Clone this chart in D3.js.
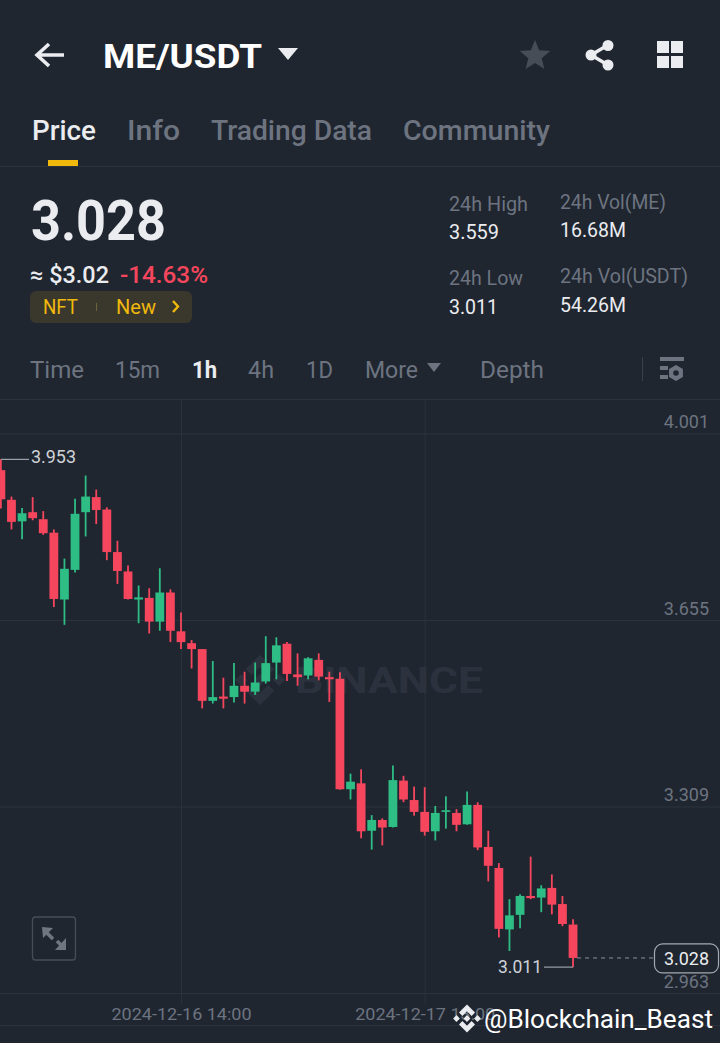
<!DOCTYPE html>
<html>
<head>
<meta charset="utf-8">
<title>ME/USDT</title>
<script src="https://cdn.jsdelivr.net/npm/d3@7/dist/d3.min.js"></script>
<style>
  html, body { margin: 0; padding: 0; background: #1f2630; }
  svg { display: block; }
  text { font-family: Roboto, "Noto Sans", sans-serif; }
</style>
</head>
<body>
<div id="chart"></div>
<script>
// one hourly candle per column, oldest first
var startTime = new Date(2024, 11, 15, 21);
var opens = [3.933, 3.878, 3.838, 3.855, 3.842, 3.817, 3.693, 3.748, 3.855, 3.883, 3.860, 3.781, 3.745, 3.693, 3.696, 3.652, 3.706, 3.634, 3.612,
  3.601, 3.505, 3.513, 3.512, 3.533, 3.522, 3.541, 3.576, 3.611, 3.554, 3.552, 3.581, 3.549, 3.546, 3.341, 3.352, 3.264, 3.284, 3.271,
  3.357, 3.321, 3.299, 3.263, 3.299, 3.297, 3.276, 3.312, 3.234, 3.195, 3.081, 3.108, 3.143, 3.140, 3.158, 3.128, 3.090];
var highs = [3.953, 3.884, 3.863, 3.883, 3.857, 3.823, 3.769, 3.880, 3.923, 3.897, 3.864, 3.802, 3.756, 3.719, 3.714, 3.751, 3.712, 3.669, 3.618,
  3.601, 3.579, 3.548, 3.575, 3.559, 3.576, 3.625, 3.623, 3.614, 3.593, 3.586, 3.593, 3.559, 3.558, 3.370, 3.378, 3.293, 3.287, 3.385,
  3.366, 3.346, 3.345, 3.310, 3.328, 3.304, 3.337, 3.317, 3.264, 3.204, 3.137, 3.146, 3.216, 3.163, 3.183, 3.143, 3.100];
var lows = [3.862, 3.823, 3.805, 3.840, 3.813, 3.679, 3.646, 3.743, 3.810, 3.833, 3.766, 3.722, 3.693, 3.649, 3.630, 3.635, 3.614, 3.601, 3.565,
  3.491, 3.500, 3.491, 3.502, 3.500, 3.516, 3.537, 3.545, 3.542, 3.533, 3.545, 3.543, 3.503, 3.340, 3.322, 3.250, 3.229, 3.237, 3.270,
  3.317, 3.292, 3.255, 3.246, 3.268, 3.263, 3.275, 3.228, 3.170, 3.066, 3.041, 3.083, 3.137, 3.113, 3.109, 3.087, 3.011];
var closes = [3.879, 3.837, 3.853, 3.844, 3.816, 3.694, 3.750, 3.852, 3.884, 3.859, 3.781, 3.746, 3.694, 3.697, 3.652, 3.706, 3.635, 3.614, 3.601,
  3.505, 3.512, 3.509, 3.533, 3.522, 3.539, 3.575, 3.608, 3.555, 3.549, 3.584, 3.550, 3.545, 3.341, 3.355, 3.263, 3.284, 3.270, 3.358,
  3.322, 3.299, 3.262, 3.297, 3.302, 3.275, 3.312, 3.233, 3.199, 3.082, 3.107, 3.143, 3.139, 3.157, 3.127, 3.091, 3.028];

var priceTicks = [4.001, 3.655, 3.309, 2.963];
var timeTicks = [new Date(2024, 11, 16, 14), new Date(2024, 11, 17, 13)];
var tabs = ['Price', 'Info', 'Trading Data', 'Community'];
var intervals = ['Time', '15m', '1h', '4h', '1D', 'More', 'Depth'];
var statLabels = ['24h High', '24h Vol(ME)', '24h Low', '24h Vol(USDT)'];
var statValues = ['3.559', '16.68M', '3.011', '54.26M'];

var width = 720, height = 1043;
var bg = '#1f2630', up = '#2ebd85', down = '#f6465d', gridColor = '#2b323d', axisText = '#6d7480';

var svg = d3.select('#chart').append('svg')
    .attr('width', width)
    .attr('height', height);

svg.append('rect')
    .attr('width', width)
    .attr('height', height)
    .attr('fill', bg);

function label(parent, str, x, y, size, fill, weight, anchor, fit) {
  var t = parent.append('text')
      .attr('x', x)
      .attr('y', y)
      .attr('font-size', size)
      .attr('fill', fill)
      .attr('font-weight', weight || 400)
      .attr('text-anchor', anchor || 'start')
      .text(str);
  // squeeze to the width measured in the reference
  if(fit) {
    t.attr('textLength', fit).attr('lengthAdjust', 'spacingAndGlyphs');
  }
  return t;
}

// exchange logo: two chevrons and three small diamonds
function logo(parent, cx, cy, k, fill) {
  var shapes = [
    'M0 -14L8 -6L4.6 -2.6L0 -7.2L-4.6 -2.6L-8 -6Z',
    'M0 14L8 6L4.6 2.6L0 7.2L-4.6 2.6L-8 6Z',
    'M0 -3.4L3.4 0L0 3.4L-3.4 0Z',
    'M-10.5 -3.4L-7.1 0L-10.5 3.4L-13.9 0Z',
    'M10.5 -3.4L13.9 0L10.5 3.4L7.1 0Z'
  ];
  parent.append('g')
      .attr('transform', 'translate(' + cx + ',' + cy + ') scale(' + k + ')')
      .selectAll('path')
      .data(shapes)
      .enter().append('path')
      .attr('d', function(d) { return d; })
      .attr('fill', fill);
}

// ---- header
var header = svg.append('g').attr('class', 'header');
header.append('path')
    .attr('d', 'M64 55H38M49 44L37 55L49 66')
    .attr('fill', 'none')
    .attr('stroke', '#eaecef')
    .attr('stroke-width', 3.6);
label(header, 'ME/USDT', 103, 68, 34, '#ffffff', 700, 'start', 159);
header.append('path').attr('d', 'M278 48H298L288 60Z').attr('fill', '#eaecef');
// star
header.append('path')
    .attr('d', d3.range(10).map(function(i) {
      var r = i % 2 ? 7 : 16, a = i * Math.PI / 5;
      return (i ? 'L' : 'M') + (535 + r * Math.sin(a)) + ' ' + (56 - r * Math.cos(a));
    }).join('') + 'Z')
    .attr('fill', '#474d57');
// share
header.append('path')
    .attr('d', 'M608 45L591 55L608 65')
    .attr('fill', 'none')
    .attr('stroke', '#eaecef')
    .attr('stroke-width', 3.5);
header.selectAll('circle.share')
    .data([[608, 45.5], [591, 55], [608, 65]])
    .enter().append('circle')
    .attr('cx', function(d) { return d[0]; })
    .attr('cy', function(d) { return d[1]; })
    .attr('r', 5.5)
    .attr('fill', '#eaecef');
// grid button
header.selectAll('rect.cell')
    .data([[657, 41], [671, 41], [657, 56], [671, 56]])
    .enter().append('rect')
    .attr('x', function(d) { return d[0]; })
    .attr('y', function(d) { return d[1]; })
    .attr('width', 12)
    .attr('height', 12)
    .attr('fill', '#eaecef');

// ---- tabs
var tabX = [32, 127, 211, 403], tabFit = [64, 53, 161, 147];
tabs.forEach(function(d, i) {
  label(svg, d, tabX[i], 140, 28, i ? '#6d7480' : '#eaecef', 500, 'start', tabFit[i]);
});
svg.append('rect').attr('x', 48).attr('y', 160).attr('width', 30).attr('height', 6).attr('fill', '#f0b90b');
svg.append('line').attr('x1', 0).attr('x2', width).attr('y1', 166.5).attr('y2', 166.5).attr('stroke', gridColor);

// ---- price block
label(svg, '3.028', 31, 240, 56, '#eaecef', 700, 'start', 135);
label(svg, '\u2248 $3.02', 30, 283, 23, '#eaecef', 500, 'start', 79);
label(svg, '-14.63%', 120, 283, 23, down, 500, 'start', 88);
svg.append('rect').attr('x', 30).attr('y', 291).attr('width', 162).attr('height', 32).attr('rx', 6).attr('fill', '#3a372d');
label(svg, 'NFT', 43, 314, 20, '#f0b90b', 400, 'start', 35);
svg.append('line').attr('x1', 96.5).attr('x2', 96.5).attr('y1', 303).attr('y2', 311).attr('stroke', '#6b6438');
label(svg, 'New', 116, 314, 20, '#f0b90b', 400, 'start', 40);
svg.append('path').attr('d', 'M173 301L178 306.5L173 312').attr('fill', 'none').attr('stroke', '#f0b90b').attr('stroke-width', 2.4);

var statX = [449, 560, 449, 560], statY = [211, 209, 285, 283], statFit = [79, 106, 74, 128], valueFit = [50, 66, 49, 66];
statLabels.forEach(function(d, i) {
  label(svg, d, statX[i], statY[i], 20, axisText, 400, 'start', statFit[i]);
  label(svg, statValues[i], statX[i], statY[i] + (i < 2 ? 28 : 29), 20, '#eaecef', 400, 'start', valueFit[i]);
});

// ---- interval row
var intervalX = [30, 115, 192, 248, 306, 365, 480], intervalFit = [54, 45, 25, 26, 27, 53, 64];
intervals.forEach(function(d, i) {
  label(svg, d, intervalX[i], 378, 24, i == 2 ? '#eaecef' : axisText, i == 2 ? 700 : 400, 'start', intervalFit[i]);
});
svg.append('path').attr('d', 'M427 363H441L434 372Z').attr('fill', axisText);
svg.append('line').attr('x1', 642.5).attr('x2', 642.5).attr('y1', 357).attr('y2', 381).attr('stroke', '#3a414c');
// chart settings icon
svg.append('path')
    .attr('d', 'M660 357H684V361H660ZM660 366H668V370H660ZM660 375H668V379H660Z')
    .attr('fill', axisText);
svg.append('path')
    .attr('d', d3.range(6).map(function(i) {
      var a = i * Math.PI / 3;
      return (i ? 'L' : 'M') + (676 + 8 * Math.sin(a)) + ' ' + (373 - 8 * Math.cos(a));
    }).join('') + 'Z')
    .attr('fill', axisText);
svg.append('circle').attr('cx', 676).attr('cy', 373).attr('r', 2.8).attr('fill', bg);
svg.append('line').attr('x1', 0).attr('x2', width).attr('y1', 399.5).attr('y2', 399.5).attr('stroke', gridColor);

// ---- chart
var y = d3.scaleLinear()
    .domain([priceTicks[0], priceTicks[3]])
    .range([433.5, 993]);
var x = d3.scaleTime()
    .domain(timeTicks)
    .range([181, 424.7]);
var hour = 3600000;
var candleWidth = 8.8;

function candleTime(i) {
  return new Date(+startTime + i * hour);
}

var yAxis = d3.axisRight(y)
    .tickValues(priceTicks)
    .tickSize(width)
    .tickFormat(d3.format('.3f'));
var gy = svg.append('g').attr('class', 'y-axis').call(yAxis);
gy.select('.domain').remove();
gy.selectAll('.tick line').attr('stroke', gridColor);
gy.selectAll('.tick text')
    .attr('x', 709)
    .attr('dy', -6)
    .attr('text-anchor', 'end')
    .attr('font-size', 18)
    .attr('font-family', 'Roboto')
    .attr('fill', axisText);

var xAxis = d3.axisBottom(x)
    .tickValues(timeTicks)
    .tickSize(604)
    .tickFormat(d3.timeFormat('%Y-%m-%d %H:%M'));
var gx = svg.append('g').attr('class', 'x-axis')
    .attr('transform', 'translate(0,400)')
    .call(xAxis);
gx.select('.domain').remove();
gx.selectAll('.tick line').attr('stroke', gridColor);
gx.selectAll('.tick text')
    .attr('y', 605)
    .attr('dy', 15)
    .attr('font-size', 17)
    .attr('font-family', 'Roboto')
    .attr('fill', axisText)
    .attr('textLength', 140)
    .attr('lengthAdjust', 'spacingAndGlyphs');
svg.append('line').attr('x1', 0).attr('x2', width).attr('y1', 1025.5).attr('y2', 1025.5).attr('stroke', gridColor);

// background watermark
var mark = svg.append('g').attr('class', 'watermark');
logo(mark, 260, 680, 1.8, '#2c323d');
label(mark, 'BINANCE', 295, 693, 37, '#2c323d', 700, 'start', 188);

// candles
var candles = svg.append('g').attr('class', 'candles')
    .selectAll('g')
    .data(d3.range(opens.length))
    .enter().append('g')
    .attr('fill', function(i) { return closes[i] >= opens[i] ? up : down; })
    .attr('stroke', function(i) { return closes[i] >= opens[i] ? up : down; });

candles.append('line')
    .attr('x1', function(i) { return x(candleTime(i)); })
    .attr('x2', function(i) { return x(candleTime(i)); })
    .attr('y1', function(i) { return y(highs[i]); })
    .attr('y2', function(i) { return y(lows[i]); })
    .attr('stroke-width', 1.8);

candles.append('rect')
    .attr('x', function(i) { return x(candleTime(i)) - candleWidth / 2; })
    .attr('y', function(i) { return y(Math.max(opens[i], closes[i])); })
    .attr('width', candleWidth)
    .attr('height', function(i) { return Math.max(1.5, Math.abs(y(opens[i]) - y(closes[i]))); })
    .attr('stroke', 'none');

// high / low / last callouts
var lastIndex = opens.length - 1;
var highX = x(candleTime(0)), lowX = x(candleTime(lastIndex));
svg.append('line')
    .attr('x1', highX).attr('x2', 29)
    .attr('y1', y(highs[0])).attr('y2', y(highs[0]))
    .attr('stroke', '#9a9fa6').attr('stroke-width', 1.2);
label(svg, d3.format('.3f')(highs[0]), 31, y(highs[0]) + 4, 18, '#cfd3d8', 400, 'start', 45);
svg.append('line')
    .attr('x1', lowX).attr('x2', 544)
    .attr('y1', y(lows[lastIndex])).attr('y2', y(lows[lastIndex]))
    .attr('stroke', '#9a9fa6').attr('stroke-width', 1.2);
label(svg, d3.format('.3f')(lows[lastIndex]), 498, y(lows[lastIndex]) + 6, 18, '#cfd3d8', 400, 'start', 44);

svg.append('line')
    .attr('x1', lowX + 4).attr('x2', 654)
    .attr('y1', y(closes[lastIndex])).attr('y2', y(closes[lastIndex]))
    .attr('stroke', '#8c9199')
    .attr('stroke-dasharray', '4 4');
svg.append('rect')
    .attr('x', 654.5).attr('y', y(closes[lastIndex]) - 14)
    .attr('width', 64).attr('height', 29).attr('rx', 8)
    .attr('fill', bg).attr('stroke', '#a5a9af').attr('stroke-width', 1.2);
label(svg, d3.format('.3f')(closes[lastIndex]), 664, y(closes[lastIndex]) + 7, 18, '#eaecef', 400, 'start', 45);

// expand button
svg.append('rect')
    .attr('x', 32.5).attr('y', 917).attr('width', 43).attr('height', 43).attr('rx', 3)
    .attr('fill', bg).attr('stroke', '#474d57').attr('stroke-width', 1.3);
svg.append('path')
    .attr('d', 'M42 927L53 928L43 938ZM66 950L55 950L66 938Z')
    .attr('fill', '#6f7680');
svg.append('path')
    .attr('d', 'M46 932L53 939M57 941L63 947')
    .attr('fill', 'none')
    .attr('stroke', '#6f7680')
    .attr('stroke-width', 3.6);

// repost badge
var badge = svg.append('g').attr('class', 'badge');
logo(badge, 467, 1018.5, 1, '#eaecef');
label(badge, '@Blockchain_Beast', 484, 1028, 26, '#ffffff', 400, 'start', 229);
</script>
</body>
</html>
